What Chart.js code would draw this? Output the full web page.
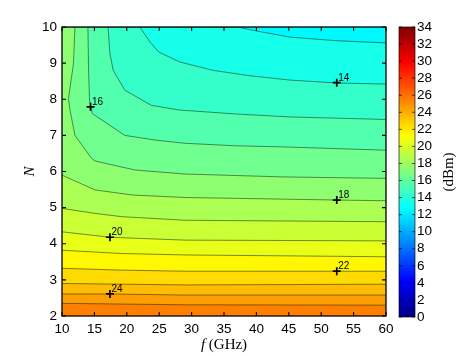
<!DOCTYPE html>
<html><head><meta charset="utf-8">
<script src="https://cdn.jsdelivr.net/npm/chart.js@4/dist/chart.umd.min.js"></script>
<style>
html,body{margin:0;padding:0;background:#fff;}
#wrap{position:relative;width:474px;height:356px;overflow:hidden;}
#main{position:absolute;left:0;top:0;}
#cbar{position:absolute;left:380px;top:0;}
</style></head><body>
<div id="wrap"><canvas id="main" width="474" height="356"></canvas><canvas id="cbar" width="94" height="356"></canvas></div>
<script>
// ---- data (f in GHz, N) ----
const xTicks = [10, 15, 20, 25, 30, 35, 40, 45, 50, 55, 60];
const yTicks = [2, 3, 4, 5, 6, 7, 8, 9, 10];
const cbarTicks = [0, 2, 4, 6, 8, 10, 12, 14, 16, 18, 20, 22, 24, 26, 28, 30, 32, 34];
const levels = [13, 14, 15, 16, 17, 18, 19, 20, 21, 22, 23, 24, 25];

const c13 = [[37.1,10],[40.0,9.89],[45.2,9.72],[52.3,9.62],[60,9.56]];
const c14 = [[22.0,10],[23.6,9.58],[24.9,9.31],[28.2,9.03],[33.3,8.80],[39.0,8.65],[45.2,8.53],[52.4,8.45],[60,8.42]];
const c15 = [[17.1,10],[17.4,9.26],[17.9,8.80],[19.7,8.25],[23.8,7.83],[28.2,7.70],[37.0,7.59],[45.2,7.51],[60,7.44]];
const c16 = [[14.0,10],[14.1,8.80],[14.25,7.97],[14.7,7.60],[19.7,7.00],[24.4,6.87],[29.0,6.78],[37.0,6.71],[44.2,6.68],[60,6.59]];
const c17 = [[12.0,10],[11.77,8.99],[11.0,8.02],[11.23,7.70],[12.0,7.00],[14.58,6.36],[15.1,6.29],[21.3,6.04],[29.0,5.93],[44.1,5.85],[60,5.81]];
const c18 = [[10,5.90],[15.1,5.49],[20.8,5.35],[29.0,5.28],[52.4,5.21],[60,5.19]];
const c19 = [[10,4.98],[15.1,4.84],[19.2,4.75],[29.0,4.65],[60,4.61]];
const c20 = [[10,4.33],[17.4,4.18],[29.0,4.10],[60,4.08]];
const c21 = [[10,3.82],[19.2,3.73],[29.0,3.69],[60,3.64]];
const c22 = [[10,3.32],[19.2,3.27],[29.0,3.24],[60,3.24]];
const c23 = [[10,2.90],[29.0,2.86],[60,2.88]];
const c24 = [[10,2.61],[17.4,2.61],[29.0,2.58],[60,2.58]];
const c25 = [[10,2.35],[29.0,2.31],[60,2.30]];

const labelF = [52.4, 14.4, 52.4, 17.4, 52.4, 17.4];
const labelN = [8.46, 7.79, 5.21, 4.18, 3.24, 2.61];
const labelText = ['14', '16', '18', '20', '22', '24'];

// ---- styling ----
const cMin = 0, cMax = 34;
function jetRGB(v){
  const c = x => Math.round(255 * Math.max(0, Math.min(1, x)));
  return [c(1.5 - Math.abs(4*v - 3)), c(1.5 - Math.abs(4*v - 2)), c(1.5 - Math.abs(4*v - 1))];
}
function jet(v){ const [r,g,b] = jetRGB(v); return `rgb(${r},${g},${b})`; }
function bandColor(L){ return jet((L + 0.5 - cMin) / (cMax - cMin)); }

const lines = {13:c13,14:c14,15:c15,16:c16,17:c17,18:c18,19:c19,20:c20,21:c21,22:c22,23:c23,24:c24,25:c25};
const xMin = xTicks[0], xMax = xTicks[xTicks.length-1];
const yMin = yTicks[0], yMax = yTicks[yTicks.length-1];

const SANS = "'Liberation Sans', Arial, sans-serif";
const SERIF = "'Liberation Serif', 'Times New Roman', serif";

const datasets = [];
datasets.push({
  label: 'labels',
  data: labelF.map((f, i) => ({x: f, y: labelN[i]})),
  showLine: false, fill: false,
  pointStyle: 'cross', pointRadius: 4, pointBorderWidth: 1.7,
  pointBorderColor: '#000', pointBackgroundColor: '#000'
});
[...levels].reverse().forEach(L => {
  const pts = lines[L].map(p => ({x: p[0], y: p[1]}));
  if (pts[0].y === yMax && pts[0].x > xMin) pts.unshift({x: xMin, y: yMax}); // close along top edge
  datasets.push({
    label: 'L' + L,
    data: pts, showLine: true, tension: 0,
    fill: 'start', backgroundColor: bandColor(L),
    borderColor: 'rgba(20,40,20,0.6)', borderWidth: 0.9,
    pointRadius: 0, pointHoverRadius: 0
  });
});

const areaBg = {
  id: 'areaBg',
  beforeDraw(chart){
    const a = chart.chartArea, ctx = chart.ctx;
    ctx.save(); ctx.fillStyle = bandColor(levels[0] - 1);
    ctx.fillRect(a.left, a.top, a.right - a.left, a.bottom - a.top); ctx.restore();
  }
};
const frame = {
  id: 'frame',
  afterDatasetsDraw(chart){
    const ctx = chart.ctx;
    const meta = chart.getDatasetMeta(0);
    ctx.save();
    ctx.fillStyle = '#000';
    ctx.font = '10px ' + SANS;
    ctx.textAlign = 'left'; ctx.textBaseline = 'alphabetic';
    meta.data.forEach((pt, i) => ctx.fillText(labelText[i], pt.x + 1.5, pt.y - 2));
    ctx.restore();
  },
  afterDraw(chart){
    const a = chart.chartArea, ctx = chart.ctx;
    const xs = chart.scales.x, ys = chart.scales.y;
    ctx.save();
    ctx.strokeStyle = '#000'; ctx.lineWidth = 1.3;
    ctx.strokeRect(a.left, a.top, a.right - a.left, a.bottom - a.top);
    ctx.lineWidth = 1.1;
    ctx.beginPath();
    xTicks.forEach(v => { const p = xs.getPixelForValue(v);
      ctx.moveTo(p, a.bottom); ctx.lineTo(p, a.bottom - 4);
      ctx.moveTo(p, a.top); ctx.lineTo(p, a.top + 4); });
    yTicks.forEach(v => { const p = ys.getPixelForValue(v);
      ctx.moveTo(a.left, p); ctx.lineTo(a.left + 4, p);
      ctx.moveTo(a.right, p); ctx.lineTo(a.right - 4, p); });
    ctx.stroke();
    // x title: italic f + (GHz)
    ctx.fillStyle = '#000'; ctx.textBaseline = 'alphabetic';
    const f1 = 'italic 15px ' + SERIF, f2 = '15px ' + SERIF;
    ctx.font = f1; const w1 = ctx.measureText('f').width;
    ctx.font = f2; const w2 = ctx.measureText(' (GHz)').width;
    const cx = (a.left + a.right) / 2, x0 = cx - (w1 + w2) / 2, by = 349;
    ctx.font = f1; ctx.textAlign = 'left'; ctx.fillText('f', x0, by);
    ctx.font = f2; ctx.fillText(' (GHz)', x0 + w1, by);
    ctx.restore();
  }
};

new Chart(document.getElementById('main'), {
  type: 'scatter',
  data: { datasets },
  options: {
    responsive: false, animation: false, devicePixelRatio: 1,
    layout: { padding: { left: 0, top: 27, right: 88, bottom: 0 } },
    plugins: { legend: { display: false }, tooltip: { enabled: false } },
    events: [],
    scales: {
      x: {
        type: 'linear', min: xMin, max: xMax,
        afterBuildTicks: s => { s.ticks = xTicks.map(v => ({value: v})); },
        afterFit: s => { s.height = 40; },
        ticks: { padding: 5, autoSkip: false, maxRotation: 0, color: '#000', font: { family: SANS, size: 13.5 } },
        grid: { display: false, drawTicks: false }, border: { display: false }
      },
      y: {
        type: 'linear', min: yMin, max: yMax,
        afterBuildTicks: s => { s.ticks = yTicks.map(v => ({value: v})); },
        afterFit: s => { s.width = 62; },
        ticks: { padding: 5, autoSkip: false, color: '#000', font: { family: SANS, size: 13.5 } },
        grid: { display: false, drawTicks: false }, border: { display: false },
        title: { display: true, text: 'N', color: '#000', padding: { top: 21, bottom: 0 },
                 font: { family: SERIF, style: 'italic', size: 15 } }
      }
    }
  },
  plugins: [areaBg, frame]
});

// ---- colorbar ----
const cbarDeco = {
  id: 'cbarDeco',
  afterDraw(chart){
    const a = chart.chartArea, ctx = chart.ctx, ys = chart.scales.y;
    ctx.save();
    ctx.strokeStyle = 'rgba(0,0,0,0.8)'; ctx.lineWidth = 0.8;
    ctx.strokeRect(a.left, a.top, a.right - a.left, a.bottom - a.top);
    ctx.beginPath();
    cbarTicks.forEach(v => { const p = ys.getPixelForValue(v);
      ctx.moveTo(a.left, p); ctx.lineTo(a.left + 3, p);
      ctx.moveTo(a.right, p); ctx.lineTo(a.right - 3, p); });
    ctx.stroke();
    ctx.fillStyle = '#000';
    ctx.translate(69.5, (a.top + a.bottom) / 2);
    ctx.rotate(-Math.PI / 2);
    ctx.font = '15px ' + SERIF; ctx.textAlign = 'center'; ctx.textBaseline = 'middle';
    ctx.fillText('(dBm)', 0, 0);
    ctx.restore();
  }
};
new Chart(document.getElementById('cbar'), {
  type: 'bar',
  data: { labels: [''], datasets: [{
    data: [[cMin, cMax]],
    barPercentage: 1, categoryPercentage: 1, borderWidth: 0,
    backgroundColor: (c) => {
      const ch = c.chart, a = ch.chartArea;
      if (!a) return 'transparent';
      const g = ch.ctx.createLinearGradient(0, a.bottom, 0, a.top);
      [0, 0.125, 0.375, 0.625, 0.875, 1].forEach(s => g.addColorStop(s, jet(s)));
      return g;
    }
  }]},
  options: {
    responsive: false, animation: false, devicePixelRatio: 1, events: [],
    layout: { padding: { left: 19, top: 27, right: 0, bottom: 39 } },
    plugins: { legend: { display: false }, tooltip: { enabled: false } },
    scales: {
      x: { display: false },
      y: {
        position: 'right', min: cMin, max: cMax,
        afterBuildTicks: s => { s.ticks = cbarTicks.map(v => ({value: v})); },
        afterFit: s => { s.width = 59; },
        ticks: { padding: 2, autoSkip: false, color: '#000', font: { family: SANS, size: 13.5 } },
        grid: { display: false, drawTicks: false }, border: { display: false }
      }
    }
  },
  plugins: [cbarDeco]
});
</script>
</body></html>
